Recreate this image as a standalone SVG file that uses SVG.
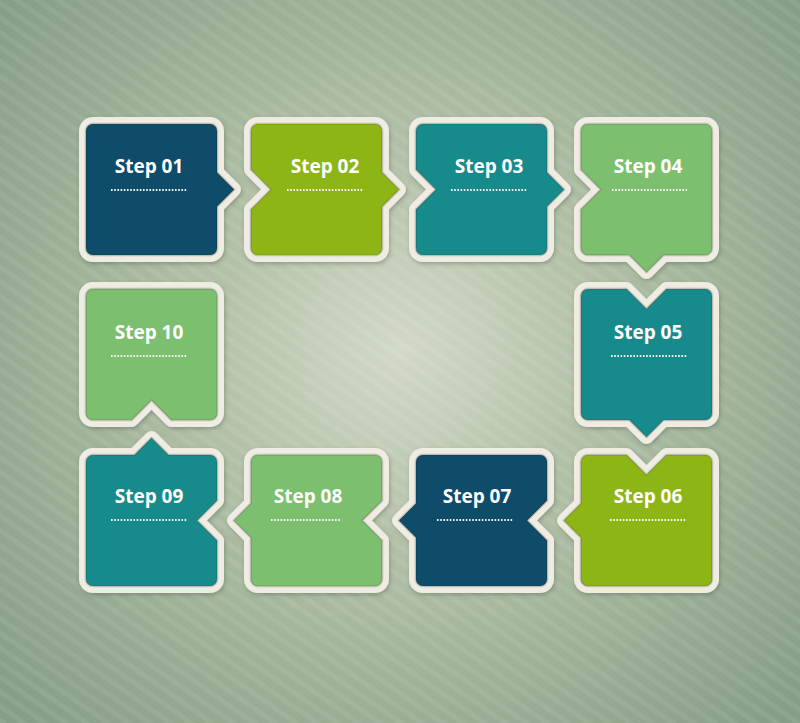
<svg xmlns="http://www.w3.org/2000/svg" width="800" height="723" viewBox="0 0 800 723">
<defs>
<style>
.frame{fill:#efece3;stroke:#efece3;stroke-width:14;stroke-linejoin:round;filter:url(#sh)}
.rim{fill:none;stroke:#d3d0c4;stroke-width:3;stroke-linejoin:round}
.tile{stroke:rgba(0,0,0,0.18);stroke-width:1.2;stroke-linejoin:round}
.c1{fill:#0e4c69}.c2{fill:#8db516}.c3{fill:#178a8b}.c4{fill:#7cbf6f}
.lbl{font-family:"Open Sans","Noto Sans","DejaVu Sans",sans-serif;font-weight:700;font-size:19px;fill:#ffffff;text-anchor:middle}
.dots{stroke:#ffffff;stroke-width:2;stroke-dasharray:1.6 1.6;opacity:0.95}
</style>
<radialGradient id="bg" cx="400" cy="350" r="520" gradientUnits="userSpaceOnUse">
<stop offset="0" stop-color="#d2d9c6"/>
<stop offset="0.35" stop-color="#b5c2aa"/>
<stop offset="0.7" stop-color="#9aaf95"/>
<stop offset="1" stop-color="#879e85"/>
</radialGradient>
<pattern id="stripes" width="12" height="12" patternUnits="userSpaceOnUse" patternTransform="rotate(35)">
<rect width="12" height="5" fill="#ffffff" opacity="0.07"/>
</pattern>
<filter id="sh" x="-20%" y="-20%" width="140%" height="140%">
<feDropShadow dx="1" dy="2" stdDeviation="2" flood-color="#3a4a38" flood-opacity="0.35"/>
</filter>
</defs>
<rect width="800" height="723" fill="url(#bg)"/>
<rect width="800" height="723" fill="url(#stripes)"/>

<g id="step01">
<path class="frame" d="M93,124 H210 A7,7 0 0 1 217,131 V172.5 L234,189.5 L217,206.5 V248 A7,7 0 0 1 210,255 H93 A7,7 0 0 1 86,248 V131 A7,7 0 0 1 93,124 Z"/>
<path class="rim" d="M93,124 H210 A7,7 0 0 1 217,131 V172.5 L234,189.5 L217,206.5 V248 A7,7 0 0 1 210,255 H93 A7,7 0 0 1 86,248 V131 A7,7 0 0 1 93,124 Z"/>
<path class="tile c1" d="M93,124 H210 A7,7 0 0 1 217,131 V172.5 L234,189.5 L217,206.5 V248 A7,7 0 0 1 210,255 H93 A7,7 0 0 1 86,248 V131 A7,7 0 0 1 93,124 Z"/>
<text class="lbl" x="149" y="173">Step 01</text>
<line class="dots" x1="111" y1="190" x2="187" y2="190"/>
</g>

<g id="step02">
<path class="frame" d="M258,124 H375 A7,7 0 0 1 382,131 V172.5 L399,189.5 L382,206.5 V248 A7,7 0 0 1 375,255 H258 A7,7 0 0 1 251,248 V209.5 L271,189.5 L251,169.5 V131 A7,7 0 0 1 258,124 Z"/>
<path class="rim" d="M258,124 H375 A7,7 0 0 1 382,131 V172.5 L399,189.5 L382,206.5 V248 A7,7 0 0 1 375,255 H258 A7,7 0 0 1 251,248 V209.5 L271,189.5 L251,169.5 V131 A7,7 0 0 1 258,124 Z"/>
<path class="tile c2" d="M258,124 H375 A7,7 0 0 1 382,131 V172.5 L399,189.5 L382,206.5 V248 A7,7 0 0 1 375,255 H258 A7,7 0 0 1 251,248 V209.5 L271,189.5 L251,169.5 V131 A7,7 0 0 1 258,124 Z"/>
<text class="lbl" x="325" y="173">Step 02</text>
<line class="dots" x1="287" y1="190" x2="363" y2="190"/>
</g>

<g id="step03">
<path class="frame" d="M423,124 H540 A7,7 0 0 1 547,131 V172.5 L564,189.5 L547,206.5 V248 A7,7 0 0 1 540,255 H423 A7,7 0 0 1 416,248 V209.5 L436,189.5 L416,169.5 V131 A7,7 0 0 1 423,124 Z"/>
<path class="rim" d="M423,124 H540 A7,7 0 0 1 547,131 V172.5 L564,189.5 L547,206.5 V248 A7,7 0 0 1 540,255 H423 A7,7 0 0 1 416,248 V209.5 L436,189.5 L416,169.5 V131 A7,7 0 0 1 423,124 Z"/>
<path class="tile c3" d="M423,124 H540 A7,7 0 0 1 547,131 V172.5 L564,189.5 L547,206.5 V248 A7,7 0 0 1 540,255 H423 A7,7 0 0 1 416,248 V209.5 L436,189.5 L416,169.5 V131 A7,7 0 0 1 423,124 Z"/>
<text class="lbl" x="489" y="173">Step 03</text>
<line class="dots" x1="451" y1="190" x2="527" y2="190"/>
</g>

<g id="step04">
<path class="frame" d="M588,124 H705 A7,7 0 0 1 712,131 V248 A7,7 0 0 1 705,255 H663.5 L646.5,272 L629.5,255 H588 A7,7 0 0 1 581,248 V209.5 L601,189.5 L581,169.5 V131 A7,7 0 0 1 588,124 Z"/>
<path class="rim" d="M588,124 H705 A7,7 0 0 1 712,131 V248 A7,7 0 0 1 705,255 H663.5 L646.5,272 L629.5,255 H588 A7,7 0 0 1 581,248 V209.5 L601,189.5 L581,169.5 V131 A7,7 0 0 1 588,124 Z"/>
<path class="tile c4" d="M588,124 H705 A7,7 0 0 1 712,131 V248 A7,7 0 0 1 705,255 H663.5 L646.5,272 L629.5,255 H588 A7,7 0 0 1 581,248 V209.5 L601,189.5 L581,169.5 V131 A7,7 0 0 1 588,124 Z"/>
<text class="lbl" x="648" y="173">Step 04</text>
<line class="dots" x1="612" y1="190" x2="687" y2="190"/>
</g>

<g id="step05">
<path class="frame" d="M588,289 H626.5 L646.5,309 L666.5,289 H705 A7,7 0 0 1 712,296 V413 A7,7 0 0 1 705,420 H663.5 L646.5,437 L629.5,420 H588 A7,7 0 0 1 581,413 V296 A7,7 0 0 1 588,289 Z"/>
<path class="rim" d="M588,289 H626.5 L646.5,309 L666.5,289 H705 A7,7 0 0 1 712,296 V413 A7,7 0 0 1 705,420 H663.5 L646.5,437 L629.5,420 H588 A7,7 0 0 1 581,413 V296 A7,7 0 0 1 588,289 Z"/>
<path class="tile c3" d="M588,289 H626.5 L646.5,309 L666.5,289 H705 A7,7 0 0 1 712,296 V413 A7,7 0 0 1 705,420 H663.5 L646.5,437 L629.5,420 H588 A7,7 0 0 1 581,413 V296 A7,7 0 0 1 588,289 Z"/>
<text class="lbl" x="648" y="339">Step 05</text>
<line class="dots" x1="611" y1="356" x2="687" y2="356"/>
</g>

<g id="step06">
<path class="frame" d="M588,455 H626.5 L646.5,475 L666.5,455 H705 A7,7 0 0 1 712,462 V579 A7,7 0 0 1 705,586 H588 A7,7 0 0 1 581,579 V537.5 L564,520.5 L581,503.5 V462 A7,7 0 0 1 588,455 Z"/>
<path class="rim" d="M588,455 H626.5 L646.5,475 L666.5,455 H705 A7,7 0 0 1 712,462 V579 A7,7 0 0 1 705,586 H588 A7,7 0 0 1 581,579 V537.5 L564,520.5 L581,503.5 V462 A7,7 0 0 1 588,455 Z"/>
<path class="tile c2" d="M588,455 H626.5 L646.5,475 L666.5,455 H705 A7,7 0 0 1 712,462 V579 A7,7 0 0 1 705,586 H588 A7,7 0 0 1 581,579 V537.5 L564,520.5 L581,503.5 V462 A7,7 0 0 1 588,455 Z"/>
<text class="lbl" x="648" y="503">Step 06</text>
<line class="dots" x1="610" y1="520" x2="686" y2="520"/>
</g>

<g id="step07">
<path class="frame" d="M423,455 H540 A7,7 0 0 1 547,462 V500.5 L527,520.5 L547,540.5 V579 A7,7 0 0 1 540,586 H423 A7,7 0 0 1 416,579 V537.5 L399,520.5 L416,503.5 V462 A7,7 0 0 1 423,455 Z"/>
<path class="rim" d="M423,455 H540 A7,7 0 0 1 547,462 V500.5 L527,520.5 L547,540.5 V579 A7,7 0 0 1 540,586 H423 A7,7 0 0 1 416,579 V537.5 L399,520.5 L416,503.5 V462 A7,7 0 0 1 423,455 Z"/>
<path class="tile c1" d="M423,455 H540 A7,7 0 0 1 547,462 V500.5 L527,520.5 L547,540.5 V579 A7,7 0 0 1 540,586 H423 A7,7 0 0 1 416,579 V537.5 L399,520.5 L416,503.5 V462 A7,7 0 0 1 423,455 Z"/>
<text class="lbl" x="477" y="503">Step 07</text>
<line class="dots" x1="437" y1="520" x2="513" y2="520"/>
</g>

<g id="step08">
<path class="frame" d="M258,455 H375 A7,7 0 0 1 382,462 V500.5 L362,520.5 L382,540.5 V579 A7,7 0 0 1 375,586 H258 A7,7 0 0 1 251,579 V537.5 L234,520.5 L251,503.5 V462 A7,7 0 0 1 258,455 Z"/>
<path class="rim" d="M258,455 H375 A7,7 0 0 1 382,462 V500.5 L362,520.5 L382,540.5 V579 A7,7 0 0 1 375,586 H258 A7,7 0 0 1 251,579 V537.5 L234,520.5 L251,503.5 V462 A7,7 0 0 1 258,455 Z"/>
<path class="tile c4" d="M258,455 H375 A7,7 0 0 1 382,462 V500.5 L362,520.5 L382,540.5 V579 A7,7 0 0 1 375,586 H258 A7,7 0 0 1 251,579 V537.5 L234,520.5 L251,503.5 V462 A7,7 0 0 1 258,455 Z"/>
<text class="lbl" x="308" y="503">Step 08</text>
<line class="dots" x1="271" y1="520" x2="340" y2="520"/>
</g>

<g id="step09">
<path class="frame" d="M93,455 H134.5 L151.5,438 L168.5,455 H210 A7,7 0 0 1 217,462 V500.5 L197,520.5 L217,540.5 V579 A7,7 0 0 1 210,586 H93 A7,7 0 0 1 86,579 V462 A7,7 0 0 1 93,455 Z"/>
<path class="rim" d="M93,455 H134.5 L151.5,438 L168.5,455 H210 A7,7 0 0 1 217,462 V500.5 L197,520.5 L217,540.5 V579 A7,7 0 0 1 210,586 H93 A7,7 0 0 1 86,579 V462 A7,7 0 0 1 93,455 Z"/>
<path class="tile c3" d="M93,455 H134.5 L151.5,438 L168.5,455 H210 A7,7 0 0 1 217,462 V500.5 L197,520.5 L217,540.5 V579 A7,7 0 0 1 210,586 H93 A7,7 0 0 1 86,579 V462 A7,7 0 0 1 93,455 Z"/>
<text class="lbl" x="149" y="503">Step 09</text>
<line class="dots" x1="111" y1="520" x2="187" y2="520"/>
</g>

<g id="step10">
<path class="frame" d="M93,289 H210 A7,7 0 0 1 217,296 V413 A7,7 0 0 1 210,420 H171.5 L151.5,400 L131.5,420 H93 A7,7 0 0 1 86,413 V296 A7,7 0 0 1 93,289 Z"/>
<path class="rim" d="M93,289 H210 A7,7 0 0 1 217,296 V413 A7,7 0 0 1 210,420 H171.5 L151.5,400 L131.5,420 H93 A7,7 0 0 1 86,413 V296 A7,7 0 0 1 93,289 Z"/>
<path class="tile c4" d="M93,289 H210 A7,7 0 0 1 217,296 V413 A7,7 0 0 1 210,420 H171.5 L151.5,400 L131.5,420 H93 A7,7 0 0 1 86,413 V296 A7,7 0 0 1 93,289 Z"/>
<text class="lbl" x="149" y="339">Step 10</text>
<line class="dots" x1="111" y1="356" x2="187" y2="356"/>
</g>
</svg>
